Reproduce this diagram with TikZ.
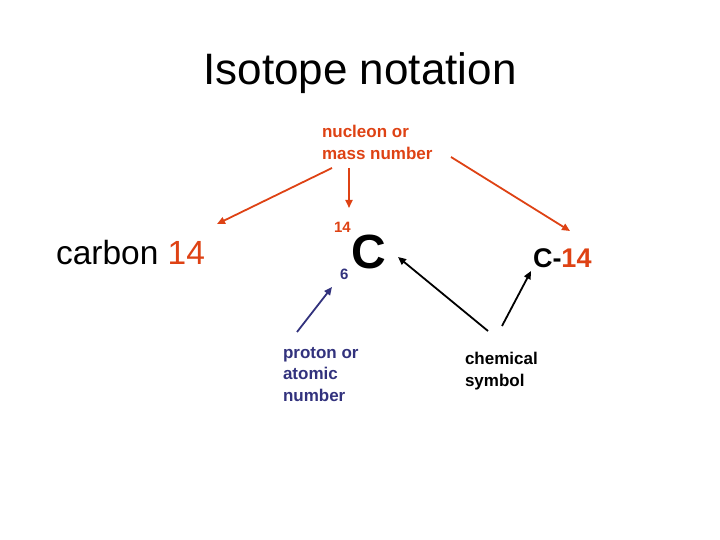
\documentclass[tikz,border=0pt]{standalone}
\usepackage{fontspec}
\setmainfont{Liberation Sans}
\usetikzlibrary{arrows.meta}
\definecolor{isored}{RGB}{222,66,20}
\definecolor{isoblue}{RGB}{50,50,125}
\tikzset{
  txt/.style={inner sep=0pt, outer sep=0pt, align=left},
  small/.style={font=\fontsize{17}{21.5}\selectfont\bfseries},
  conn/.style={line width=1.8pt, -{Triangle[length=8pt,width=7pt]}},
}
\begin{document}
\begin{tikzpicture}[x=1pt,y=-1pt]
\useasboundingbox (0,0) rectangle (720,540);
% title
\node[txt, anchor=base, font=\fontsize{44}{50}\selectfont] (title) at (360,85) {Isotope notation};
% labels (base = baseline of last line)
\node[txt, small, font=\fontsize{17}{22.5}\selectfont\bfseries, anchor=base west, text=isored] (nucleon) at (322,160)
  {nucleon or\\mass number};
\node[txt, anchor=base west, font=\fontsize{33.5}{38}\selectfont] (carbon) at (56,264)
  {carbon \textcolor{isored}{14}};
\node[txt, anchor=base west, text=isored, font=\fontsize{15}{18}\selectfont\bfseries] (mass) at (334,233) {14};
\node[txt, anchor=base west, text=isoblue, font=\fontsize{15}{18}\selectfont\bfseries] (atomic) at (340,279) {6};
\node[txt, anchor=base west, font=\fontsize{48}{54}\selectfont\bfseries] (sym) at (351,268) {C};
\node[txt, anchor=base west, font=\fontsize{27}{32}\selectfont\bfseries] (short) at (533,267)
  {C-\textcolor{isored}{14}};
\node[txt, small, anchor=base west, text=isoblue] (proton) at (283,401)
  {proton or\\atomic\\number};
\node[txt, small, anchor=base west] (chem) at (465,386)
  {chemical\\symbol};
% connector ends
\coordinate (n1) at (332,168);
\coordinate (n2) at (349,168);
\coordinate (n3) at (451,157);
\coordinate (t1) at (217,224);
\coordinate (t2) at (349,208);
\coordinate (t3) at (570,231);
\coordinate (p1) at (297,332);
\coordinate (p2) at (332,287);
\coordinate (c1) at (488,331);
\coordinate (c2) at (398,257);
\coordinate (c3) at (502,326);
\coordinate (c4) at (531,271);
% connectors
\draw[conn, isored] (n1) -- (t1);
\draw[conn, isored] (n2) -- (t2);
\draw[conn, isored] (n3) -- (t3);
\draw[conn, isoblue] (p1) -- (p2);
\draw[conn, black] (c1) -- (c2);
\draw[conn, black] (c3) -- (c4);
\end{tikzpicture}
\end{document}
